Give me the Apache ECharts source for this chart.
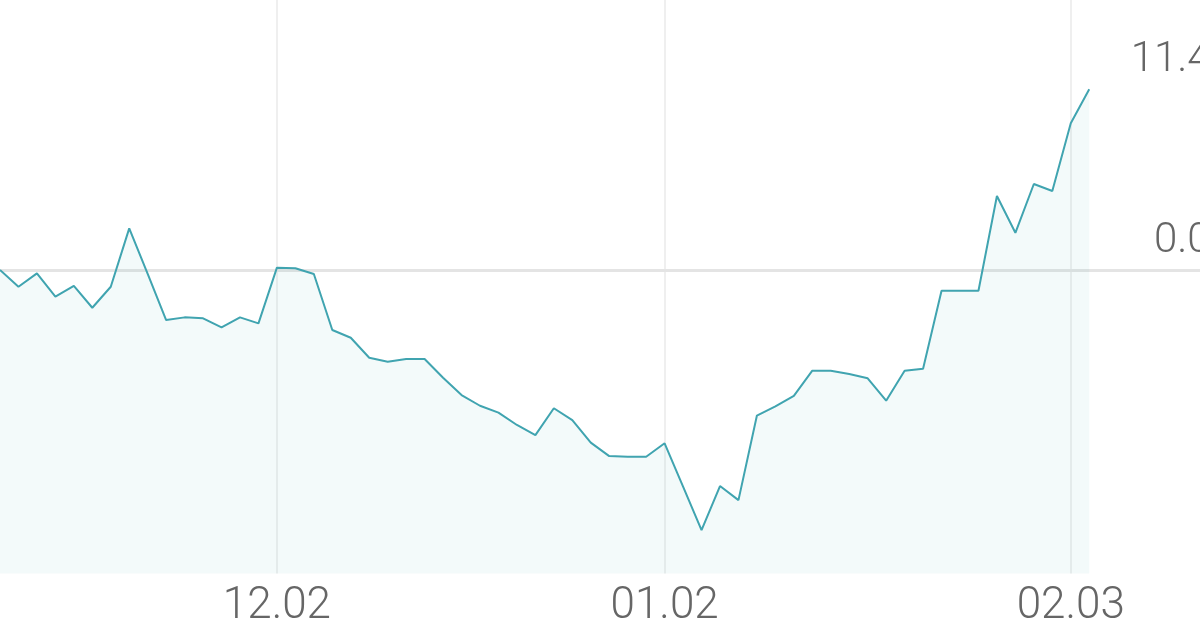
<!DOCTYPE html>
<html>
<head>
<meta charset="utf-8">
<script src="https://cdn.jsdelivr.net/npm/echarts@6/dist/echarts.min.js"></script>
<style>
html,body{margin:0;padding:0;background:#fff;}
#c{width:1200px;height:630px;}
</style>
</head>
<body>
<div id="c"></div>
<script>
const categories = [
  "11.11","11.12","11.13","11.14","11.15",
  "11.18","11.19","11.20","11.21","11.22",
  "11.25","11.26","11.27","11.28","11.29",
  "12.02","12.03","12.04","12.05","12.06",
  "12.09","12.10","12.11","12.12","12.13",
  "12.16","12.17","12.18","12.19","12.20",
  "12.23","12.24","12.26","12.27",
  "12.30","12.31",
  "01.02","01.03",
  "01.06","01.07","01.08","01.09","01.10",
  "01.13","01.14","01.15","01.16","01.17",
  "01.20","01.21","01.22","01.23","01.24",
  "01.27","01.28","01.29","01.30","01.31",
  "02.03","02.04","02.05","02.06","02.07",
  "02.10","02.11","02.12"
];
const returns = [
  0, -1.06, -0.21, -1.69, -1.01, -2.39, -1.06, 2.64, -0.25, -3.17,
  -3.00, -3.06, -3.63, -3.00, -3.38, 0.15, 0.11, -0.25, -3.80, -4.29,
  -5.56, -5.81, -5.64, -5.64, -6.83, -7.92, -8.60, -9.04, -9.82, -10.46,
  -8.76, -9.51, -10.94, -11.79, -11.83, -11.83, -10.98, -13.72, -16.48, -13.69,
  -14.58, -9.22, -8.64, -7.98, -6.38, -6.38, -6.59, -6.86, -8.28, -6.38,
  -6.25, -1.31, -1.31, -1.31, 4.69, 2.36, 5.45, 5.01, 9.30, 11.45
];
const tickLabels = ["12.02", "01.02", "02.03"];
const yLabelValues = [0, 11.45];
const baselineValues = [0];

const chart = echarts.init(document.getElementById('c'), null, {renderer: 'canvas'});
const showTick = (idx, val) => tickLabels.indexOf(categories[idx]) >= 0;
chart.setOption({
  animation: false,
  grid: {left: 0, right: 0, top: 0, bottom: 56.5, containLabel: false, outerBoundsMode: 'none'},
  xAxis: {
    type: 'category',
    data: categories,
    boundaryGap: false,
    axisLine: {show: true, lineStyle: {color: '#e4e4e4', width: 3}},
    axisTick: {show: false},
    axisLabel: {
      interval: showTick,
      fontFamily: 'Roboto', fontWeight: 300, fontSize: 44, color: '#666666', margin: 11
    },
    splitLine: {show: true, interval: showTick, lineStyle: {color: '#efefef', width: 2}}
  },
  yAxis: {
    type: 'value',
    position: 'right',
    min: -19.23,
    max: 17.11,
    axisLine: {show: false},
    axisTick: {show: false, customValues: baselineValues},
    splitLine: {show: true, lineStyle: {color: '#dddddd', width: 2.5, type: [7, 7], cap: 'butt'}},
    axisLabel: {
      customValues: yLabelValues,
      formatter: v => v.toFixed(2) + '%',
      fontFamily: 'Roboto', fontWeight: 300, fontSize: 42, color: '#666666',
      align: 'right', verticalAlign: 'bottom', margin: 65, padding: [0, 0, 8, 0]
    }
  },
  series: [{
    type: 'line',
    data: returns,
    symbol: 'none',
    lineStyle: {color: '#40a4b0', width: 2},
    areaStyle: {color: 'rgba(60,170,170,0.09)', origin: 'start'},
    z: 3
  }]
});
</script>
</body>
</html>
